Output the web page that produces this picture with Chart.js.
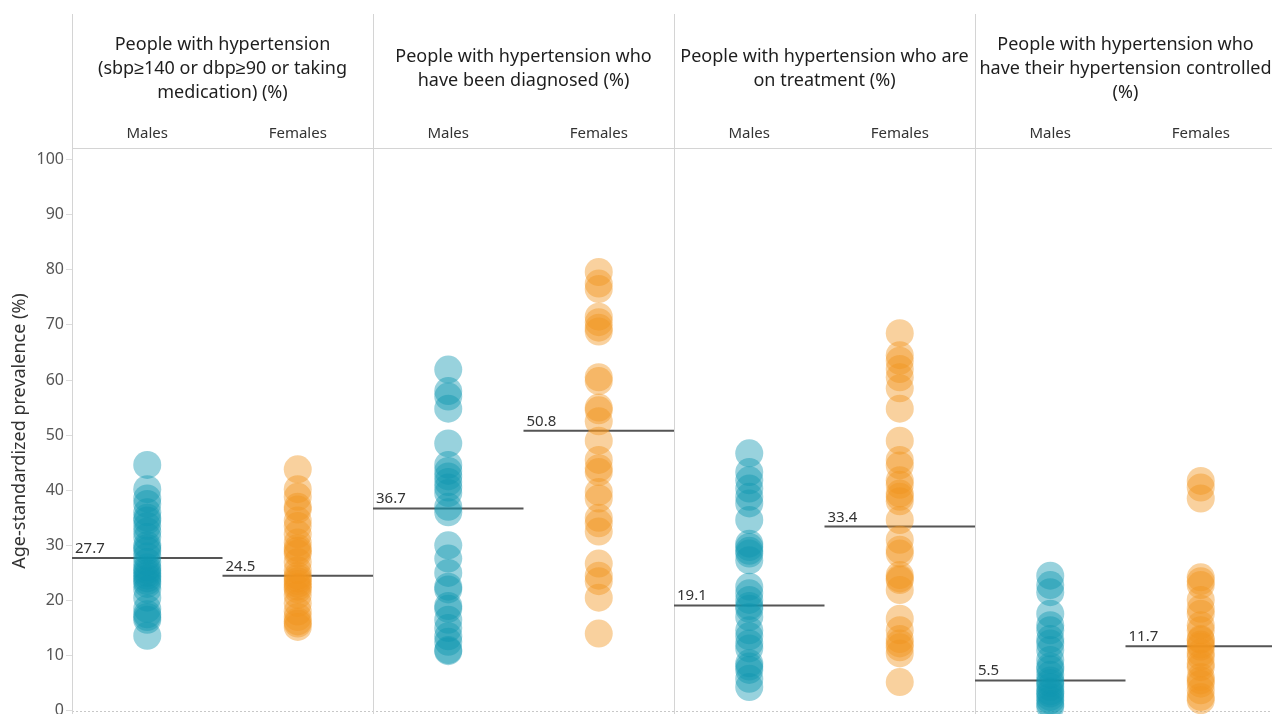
<!DOCTYPE html>
<html>
<head>
<meta charset="utf-8">
<script src="https://cdn.jsdelivr.net/npm/chart.js@4"></script>
<style>
  html, body { margin: 0; padding: 0; background: #fff; overflow: hidden; }
  #wrap { width: 1276px; height: 714px; position: relative; }
</style>
</head>
<body>
<div id="wrap"><canvas id="chart"></canvas></div>
<script>
// panel titles (one array of lines per panel)
const panelTitles = [
    ['People with hypertension', '(sbp\u2265140 or dbp\u226590 or taking', 'medication) (%)'],
    ['People with hypertension who', 'have been diagnosed (%)'],
    ['People with hypertension who are', 'on treatment (%)'],
    ['People with hypertension who', 'have their hypertension controlled', '(%)']
];
const sexLabels = ['Males', 'Females'];
const yTicks = [0, 10, 20, 30, 40, 50, 60, 70, 80, 90, 100];

// country values
const hypMales = [44.6, 40.2, 38.5, 37.5, 36, 35, 34.5, 33.5, 32.5, 31.5, 30, 29.5, 29, 28, 27, 26, 25.5, 25, 24.5, 24, 23.5, 23, 22, 20.5, 18.5, 17.5, 17, 16.5, 13.6];
const hypFemales = [43.8, 40.2, 38.8, 37, 36.5, 34.5, 33.5, 32, 30.5, 29.5, 29, 28.5, 27, 25.5, 24.5, 24, 23.5, 23, 22.5, 22, 21, 19.5, 18, 17, 16.2, 15.8, 15.2];
const diagMales = [61.9, 58, 57, 54.8, 48.5, 44.6, 43.5, 42.5, 41.5, 40.5, 39.5, 37, 36, 30, 27.6, 25, 22.5, 22, 19, 18.5, 16.5, 15, 13.5, 12.5, 11, 10.8];
const diagFemales = [79.6, 77.5, 76.5, 71.5, 70.5, 69.5, 68.8, 60.5, 59.8, 55, 54.5, 52.5, 49, 45.5, 44, 43.3, 39.7, 38.5, 35, 34, 32.5, 26.7, 24.5, 23.5, 20.5, 14];
const treatMales = [46.7, 43.3, 41.8, 40.3, 38.8, 37.6, 34.6, 30.3, 29.7, 29, 28.5, 27.3, 22.5, 21.3, 20.1, 19, 18.5, 17, 14.6, 13.5, 12.2, 11.3, 8.6, 8, 7.4, 5.8, 4.3];
const treatFemales = [68.5, 64.5, 63.5, 62, 60.5, 58.5, 54.8, 49, 45.5, 44.5, 41.8, 41, 39.4, 38.8, 38, 34.6, 31, 29.2, 28.5, 24.6, 24, 23.7, 21.9, 16.7, 14.6, 13, 12.2, 11.5, 10.4, 5.2];
const ctrlMales = [24.5, 22.8, 21.5, 17.6, 15.5, 14.6, 13, 12.2, 11, 9.2, 8, 7.5, 6.5, 5.5, 5, 4.3, 3.5, 3.1, 2.5, 1.9, 1.2, 0.7];
const ctrlFemales = [41.7, 40.5, 38.5, 24.2, 23.5, 22.8, 20.1, 18.5, 17.6, 15.5, 14.6, 13, 12.8, 12, 11.6, 10.5, 9.8, 8.5, 7.9, 6.1, 5.5, 4.9, 3.7, 2.5, 1.9];

// summary value shown as a reference line per column
const columnMeans = [27.7, 24.5, 36.7, 50.8, 19.1, 33.4, 5.5, 11.7];

const columns = [hypMales, hypFemales, diagMales, diagFemales, treatMales, treatFemales, ctrlMales, ctrlFemales];

const teal = 'rgba(16,150,176,0.43)';
const orange = 'rgba(240,148,30,0.43)';
const fontFam = '"Noto Sans", sans-serif';

let datasets = [];
columns.forEach(function (vals, i) {
    datasets.push({
        type: 'scatter',
        data: vals.map(v => ({x: i + 0.5, y: v})),
        backgroundColor: i % 2 === 0 ? teal : orange,
        borderWidth: 0,
        pointRadius: 14,
        pointHoverRadius: 14,
        clip: false
    });
});
columnMeans.forEach(function (m, i) {
    datasets.push({
        type: 'line',
        data: [{x: i, y: m}, {x: i + 1, y: m}],
        borderColor: '#555',
        borderWidth: 2,
        pointRadius: 0
    });
});

let decor = {
    id: 'decor',
    beforeDatasetsDraw(chart) {
        let ctx = chart.ctx;
        let xs = chart.scales.x, ys = chart.scales.y;
        let area = chart.chartArea;
        ctx.save();
        // zero line, dotted
        ctx.strokeStyle = '#c8c8c8';
        ctx.lineWidth = 1;
        ctx.setLineDash([2, 2]);
        ctx.beginPath();
        let y0 = Math.round(ys.getPixelForValue(0)) + 0.5;
        ctx.moveTo(area.left, y0);
        ctx.lineTo(area.right, y0);
        ctx.stroke();
        ctx.setLineDash([]);
        // panel dividers
        ctx.strokeStyle = '#d4d4d4';
        for (let p = 0; p <= 4; p++) {
            let x = Math.round(xs.getPixelForValue(p * 2)) + 0.5;
            ctx.beginPath();
            ctx.moveTo(x, 14);
            ctx.lineTo(x, chart.height);
            ctx.stroke();
        }
        // header bottom border
        ctx.beginPath();
        ctx.moveTo(area.left, area.top + 0.5);
        ctx.lineTo(area.right, area.top + 0.5);
        ctx.stroke();
        ctx.restore();
    },
    afterDatasetsDraw(chart) {
        let ctx = chart.ctx;
        let xs = chart.scales.x, ys = chart.scales.y;
        ctx.save();
        // mean labels
        ctx.fillStyle = '#333';
        ctx.font = '15px ' + fontFam;
        ctx.textAlign = 'left';
        ctx.textBaseline = 'alphabetic';
        columnMeans.forEach(function (m, i) {
            let x = xs.getPixelForValue(i) + 3;
            let y = ys.getPixelForValue(m) - 5;
            ctx.fillText(m.toFixed(1), x, y);
        });
        // panel titles
        ctx.textAlign = 'center';
        ctx.textBaseline = 'middle';
        ctx.font = '18px ' + fontFam;
        ctx.fillStyle = '#1e1e1e';
        panelTitles.forEach(function (lines, p) {
            let cx = (xs.getPixelForValue(p * 2) + xs.getPixelForValue(p * 2 + 2)) / 2;
            lines.forEach(function (line, k) {
                let y = 69 + (k - (lines.length - 1) / 2) * 24;
                ctx.fillText(line, cx, y);
            });
        });
        // sex labels
        ctx.font = '15px ' + fontFam;
        ctx.fillStyle = '#333';
        for (let i = 0; i < 8; i++) {
            ctx.fillText(sexLabels[i % 2], xs.getPixelForValue(i + 0.5), 134);
        }
        ctx.restore();
    }
};

new Chart(document.getElementById('chart'), {
    data: {datasets: datasets},
    options: {
        responsive: true,
        maintainAspectRatio: false,
        animation: false,
        layout: {autoPadding: false, padding: {top: 148, right: 0, bottom: 0, left: 0}},
        plugins: {legend: {display: false}, tooltip: {enabled: false}},
        scales: {
            x: {
                type: 'linear',
                min: 0,
                max: 8,
                display: false
            },
            y: {
                type: 'linear',
                min: -0.6,
                max: 102.1,
                afterBuildTicks: function (scale) {
                    scale.ticks = yTicks.map(v => ({value: v}));
                },
                afterFit: function (scale) {
                    scale.width = 72;
                    scale.paddingTop = 0;
                    scale.paddingBottom = 0;
                },
                grid: {
                    drawOnChartArea: false,
                    drawTicks: true,
                    tickLength: 6,
                    color: '#dcdcdc'
                },
                border: {display: true, color: '#d4d4d4'},
                ticks: {
                    padding: 2,
                    color: '#555',
                    font: {family: fontFam, size: 16}
                },
                title: {
                    display: true,
                    text: 'Age-standardized prevalence (%)',
                    color: '#333',
                    padding: {top: 9, bottom: 0},
                    font: {family: fontFam, size: 18}
                }
            }
        }
    },
    plugins: [decor]
});
</script>
</body>
</html>
